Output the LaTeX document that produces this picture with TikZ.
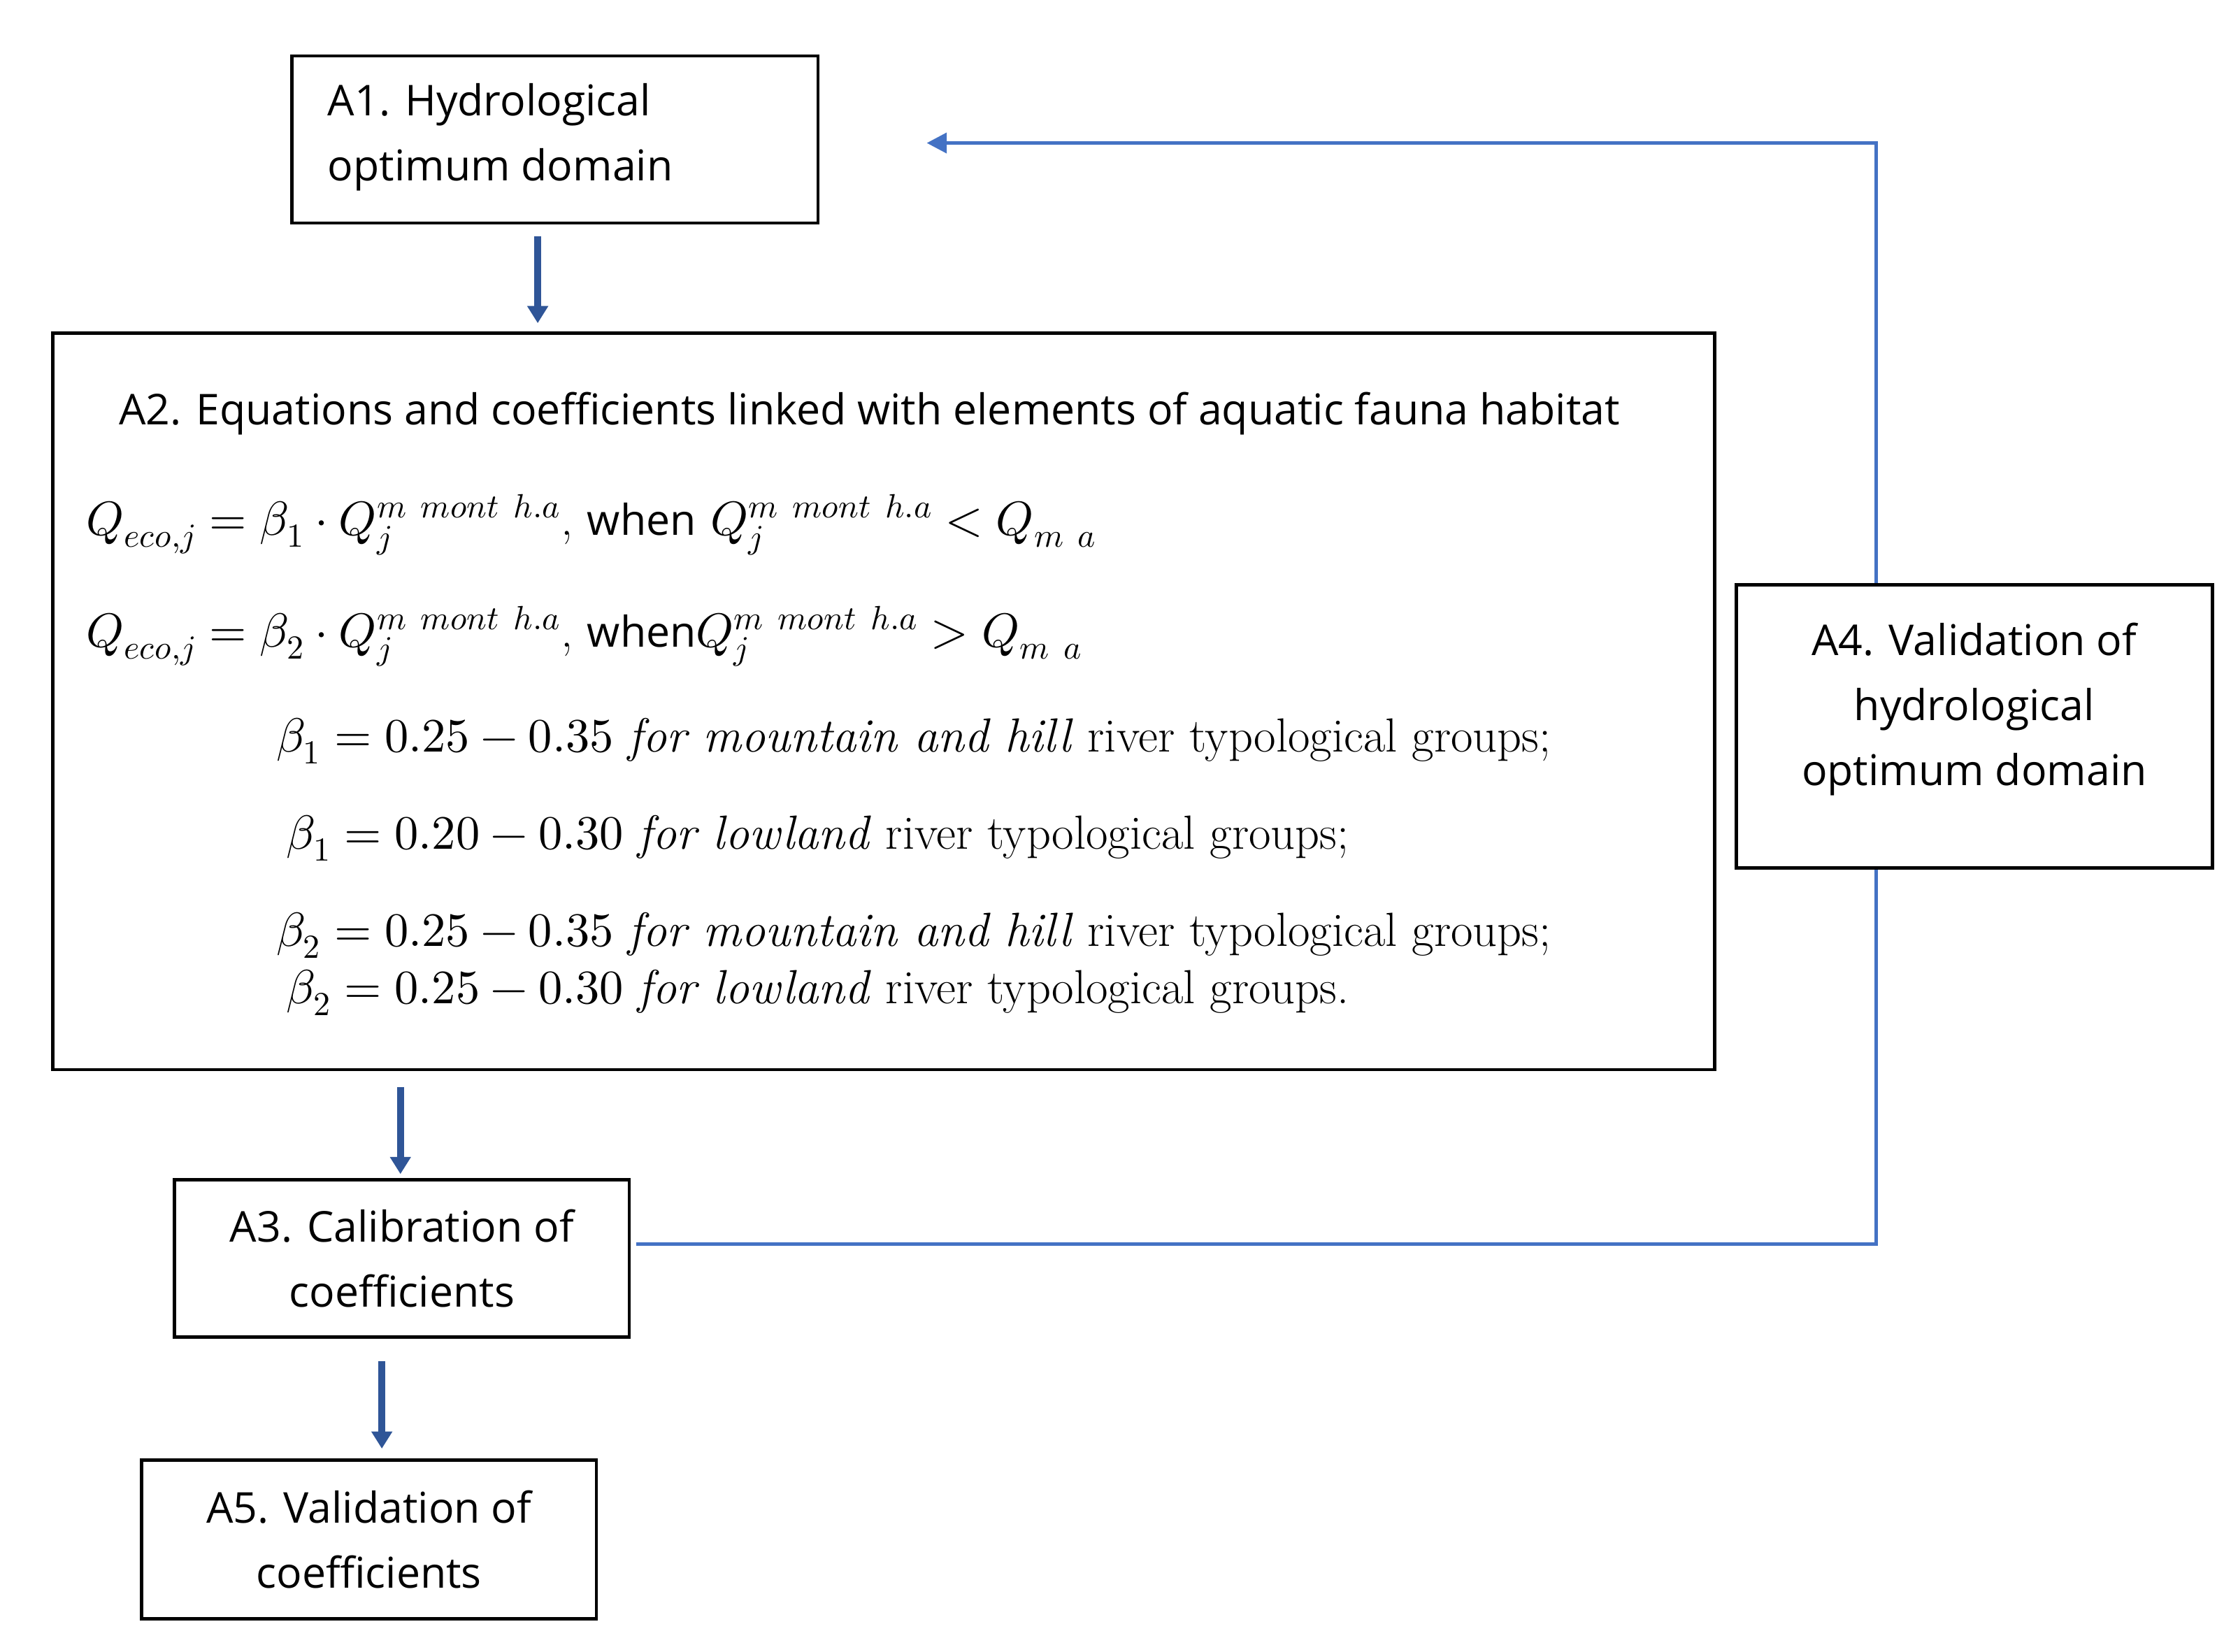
\documentclass[tikz,border=0pt]{standalone}
\usepackage{amsmath}
\usepackage{unicode-math}
\setmathfont{Latin Modern Math}
\newfontfamily\boxfont{Open Sans}
\usetikzlibrary{arrows.meta}
\definecolor{lblue}{RGB}{68,114,196}
\definecolor{dblue}{RGB}{47,85,151}
\begin{document}
\begin{tikzpicture}[x=1pt,y=-1pt,
  box/.style={draw=black,line width=2.2pt,inner sep=0pt},
  txt/.style={font=\boxfont\fontsize{29.7}{45.5}\selectfont,align=center,inner sep=0pt},
  eq/.style={anchor=west,inner sep=0pt,font=\fontsize{33.5}{38}\selectfont},
  thick arrow/.style={draw=dblue,line width=5pt,-{Triangle[length=12pt,width=14pt]}},
  thin/.style={draw=lblue,line width=2.6pt}]
\useasboundingbox (0,0) rectangle (1560,1155);
\fill[white] (0,0) rectangle (1560,1155);
\node[box,minimum width=368pt,minimum height=117pt] (a1) at (388,97.5) {};
\node[txt,align=left,anchor=west] (t1) at (229,96) {A1. Hydrological\\optimum domain};
\node[box,minimum width=1162pt,minimum height=515pt] (a2) at (618,490.5) {};
\node[txt,anchor=west] (t2) at (83,289) {A2. Equations and coefficients linked with elements of aquatic fauna habitat};
\node[eq] (e1) at (60,367) {$Q_{eco,j}=\beta_1\cdot Q_j^{m\ mont\ h.a}$, {\boxfont\fontsize{29.7}{34}\selectfont when} $Q_j^{m\ mont\ h.a}<Q_{m\ a}$};
\node[eq] (e2) at (60,445) {$Q_{eco,j}=\beta_2\cdot Q_j^{m\ mont\ h.a}$, {\boxfont\fontsize{29.7}{34}\selectfont when}$Q_j^{m\ mont\ h.a}>Q_{m\ a}$};
\node[eq] (e3) at (193,518) {$\beta_1=0.25-0.35$ \textit{for mountain and hill} river typological groups;};
\node[eq] (e4) at (200,586) {$\beta_1=0.20-0.30$ \textit{for lowland} river typological groups;};
\node[eq] (e5) at (193,654) {$\beta_2=0.25-0.35$ \textit{for mountain and hill} river typological groups;};
\node[eq] (e6) at (200,694) {$\beta_2=0.25-0.30$ \textit{for lowland} river typological groups.};
\node[box,minimum width=318pt,minimum height=110pt,txt] (a3) at (281,880) {A3. Calibration of\\coefficients};
\node[box,minimum width=318pt,minimum height=111pt,txt] (a5) at (258,1076.5) {A5. Validation of\\coefficients};
\node[box,minimum width=333pt,minimum height=198pt] (a4) at (1380.5,508) {};
\node[txt] (t4) at (1380.5,496) {A4. Validation of\\hydrological\\optimum domain};
\draw[thick arrow] (376,165) -- (376,226);
\draw[thick arrow] (280,760) -- (280,821);
\draw[thick arrow] (267,952) -- (267,1013);
\coordinate (c1) at (1312,870);
\coordinate (c2) at (1312,100);
\coordinate (c3) at (648,100);
\draw[thin] (445,870) -- (c1) -- (a4.south -| c1);
\draw[thin,-{Triangle[length=14pt,width=14pt]}] (a4.north -| c2) -- (c2) -- (c3);
\end{tikzpicture}
\end{document}
